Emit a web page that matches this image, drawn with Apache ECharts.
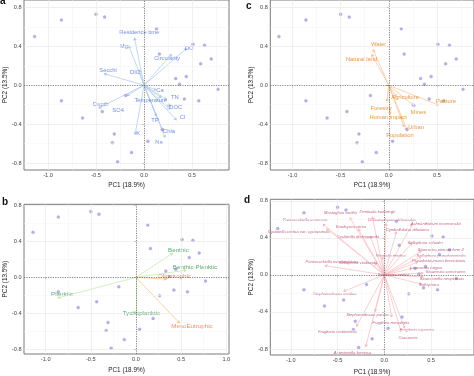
<!DOCTYPE html>
<html><head><meta charset="utf-8">
<script src="https://cdn.jsdelivr.net/npm/echarts@6/dist/echarts.min.js"></script>
<style>html,body{margin:0;padding:0;background:#fff;overflow:hidden}#c{width:474px;height:376px}</style>
</head><body><div id="c"></div>
<script>
// ---------- DATA ----------
const sitePoints = [
  [-1.14, 0.50], [-0.86, 0.67], [-0.50, 0.73], [-0.41, 0.70], [0.13, 0.58], [0.16, 0.32],
  [0.51, 0.42], [0.63, 0.41], [0.59, 0.22], [0.70, 0.27], [0.33, 0.07], [0.44, 0.09],
  [0.37, 0.01], [0.77, -0.04], [-0.86, -0.16], [-0.64, -0.335], [-0.435, -0.27], [-0.19, -0.105],
  [0.42, -0.14], [0.57, -0.16], [0.26, -0.205], [-0.31, -0.50], [-0.33, -0.59], [-0.275, -0.785],
  [-0.13, -0.69], [0.04, -0.575], [0.19, -0.455]
];
const xTicks = [-1.0, -0.5, 0.0, 0.5];
const xTicksB = [-1.0, -0.5, 0.0, 0.5, 1.0];
const yTicks = [-0.8, -0.4, 0.0, 0.4, 0.8];
const xMinor = [-1.25, -0.75, -0.25, 0.25, 0.75];
const yMinor = [-0.6, -0.2, 0.2, 0.6];
const xTitle = 'PC1 (18.9%)';
const yTitle = 'PC2 (13.5%)';

// panel a: environmental variables
const envNames = ['Residence time','Mg','DO','Circularity','Secchi','DIC','Ca','TN','Temperature','DOC','Cl','TP','Chla','Na','K','SO4','Depth'];
const envEnds = [[-0.10,0.49],[-0.16,0.41],[0.445,0.38],[0.29,0.32],[-0.42,0.12],[-0.05,0.16],[0.13,-0.05],[0.24,-0.15],[0.18,-0.13],[0.27,-0.25],[0.34,-0.36],[0.13,-0.32],[0.20,-0.475],[0.22,-0.54],[-0.094,-0.51],[-0.18,-0.11],[-0.475,-0.236]];
const envLabelPos = [[-0.05,0.54],[-0.21,0.40],[0.47,0.38],[0.24,0.28],[-0.375,0.157],[-0.094,0.136],[0.167,-0.048],[0.32,-0.12],[0.07,-0.16],[0.33,-0.23],[0.40,-0.335],[0.115,-0.356],[0.26,-0.47],[0.156,-0.59],[-0.06,-0.49],[-0.27,-0.26],[-0.45,-0.20]];

// panel b: life forms (group 0) and trophic preference (group 1)
const lifeNames = ['Benthic','Benthic-Planktic','Oligotrophic','Planktic','Tychoplanktic','MesoEutrophic'];
const lifeGroup = [0, 0, 1, 0, 0, 1];
const lifeEnds = [[0.41,0.27],[0.56,0.08],[0.34,-0.02],[-0.87,-0.23],[0.0,-0.40],[0.485,-0.51]];
const lifeLabelPos = [[0.47,0.30],[0.654,0.111],[0.426,0.007],[-0.82,-0.19],[0.06,-0.40],[0.62,-0.54]];

// panel c: land use
const landNames = ['Water','Natural land','Agriculture','Pasture','Mines','Forestry','Human impact','Urban','Population'];
const landEnds = [[-0.164,0.37],[-0.18,0.32],[0.08,-0.12],[0.52,-0.205],[0.26,-0.21],[-0.02,-0.17],[0.014,-0.30],[0.19,-0.46],[0.16,-0.43]];
const landLabelPos = [[-0.106,0.417],[-0.283,0.267],[0.17,-0.123],[0.594,-0.164],[0.307,-0.274],[-0.08,-0.236],[-0.007,-0.33],[0.283,-0.43],[0.116,-0.513]];

// panel d: diatom species
const taxaNames = ['Mastogloia smithii','Denticula kuetzingii','Pantocsekiella comensis','Delicatophycus delicatulus','Achnanthidium rosenstockii','Brachysira vitrea','Cymbellafalsa diluviana','Cyclotella cretica var. cyclopuncta','Cyclotella distinguenda','Sellaphora schadei','Staurosira pinnata form 2','Navicula modica','Sellaphora pseudoventralis','Pseudostaurosira brevistriata','Sellaphora vitabunda','Pantocsekiella wuethrichiana','Lemnicola exigua','Staurosira construens','Staurosira venter','Staurosirella neopinnata','Sellaphora','Stephanodiscus medius','Stephanodiscus parvus','Fragilaria mesolepta','Fragilaria crotonensis','Fragilaria capucina','Cocconeis','Asterionella formosa'];
const taxaEnds = [[-0.37,0.62],[-0.13,0.63],[-0.66,0.55],[0.02,0.56],[0.30,0.55],[-0.28,0.50],[0.13,0.47],[-0.62,0.50],[-0.15,0.42],[0.30,0.35],[0.40,0.26],[-0.02,0.20],[0.40,0.20],[0.36,0.14],[-0.10,0.13],[-0.64,0.10],[0.30,0.07],[0.42,0.02],[0.05,0.0],[0.42,-0.02],[0.40,-0.10],[-0.44,-0.18],[-0.10,-0.40],[0.08,-0.46],[-0.30,-0.56],[0.22,-0.58],[0.18,-0.62],[-0.20,-0.78]];
const taxaLabelPos = [[-0.47,0.667],[-0.077,0.677],[-0.846,0.596],[0.08,0.596],[0.55,0.55],[-0.357,0.52],[0.245,0.484],[-0.916,0.46],[-0.28,0.414],[0.437,0.35],[0.605,0.274],[0.07,0.20],[0.61,0.21],[0.58,0.15],[-0.28,0.133],[-0.56,0.144],[0.448,0.077],[0.657,0.028],[0.098,0.0],[0.615,-0.04],[0.48,-0.11],[-0.53,-0.21],[-0.18,-0.435],[0.07,-0.52],[-0.50,-0.61],[0.35,-0.596],[0.255,-0.68],[-0.34,-0.84]];

// ---------- LAYOUT / STYLE ----------
const FONT = 'Liberation Sans, Arial, Helvetica, sans-serif';
const panels = [
  {letter:'a', grid:{left:24, top:0, width:205, height:170}, x:[-1.25,0.885], y:[-0.87,0.875], xt:xTicks,
   names:envNames, ends:envEnds, pos:envLabelPos, groups:null, lineColors:['#a9c6e8'], textColors:['#4a6fdc'], fs:5.8, italic:false, xGap:12, letterPos:{left:0,top:-4}},
  {letter:'b', grid:{left:24, top:204.3, width:205, height:149.7}, x:[-1.24,1.03], y:[-0.85,0.81], xt:xTicksB,
   names:lifeNames, ends:lifeEnds, pos:lifeLabelPos, groups:lifeGroup, lineColors:['#bfe6a6','#f6bd78'], textColors:['#2e9150','#e8704f'], fs:6.2, italic:false, xGap:13, letterPos:{left:2,top:197}},
  {letter:'c', grid:{left:270.3, top:0, width:205, height:170}, x:[-1.23,0.885], y:[-0.87,0.875], xt:xTicks,
   names:landNames, ends:landEnds, pos:landLabelPos, groups:null, lineColors:['#f4bf8e'], textColors:['#e07a16'], fs:5.8, italic:false, xGap:12, letterPos:{left:246,top:1}},
  {letter:'d', grid:{left:270.3, top:199.3, width:210, height:158}, x:[-1.22,0.96], y:[-0.865,0.816], xt:xTicks,
   names:taxaNames, ends:taxaEnds, pos:taxaLabelPos, groups:null, lineColors:['#f6b9bf'], textColors:['#b23a5e'], fs:4.1, italic:true, xGap:14, letterPos:{left:244,top:195}}
];

const grids = [], xAxes = [], yAxes = [], series = [], titles = [];
panels.forEach((p, i) => {
  grids.push(Object.assign({show:true, borderColor:'#7a7a7a', borderWidth:1, backgroundColor:'#fff', containLabel:false}, p.grid));
  xAxes.push({type:'value', gridIndex:i, min:p.x[0], max:p.x[1], name:xTitle, nameLocation:'middle', nameGap:p.xGap,
    nameTextStyle:{fontSize:6.4, color:'#222', fontFamily:FONT},
    axisLine:{show:false}, splitLine:{show:false},
    axisTick:{show:true, length:2, customValues:p.xt, lineStyle:{color:'#555', width:0.6}},
    axisLabel:{customValues:p.xt, fontSize:5.6, color:'#444', margin:2.5, fontFamily:FONT, formatter:v=>v.toFixed(1)}});
  yAxes.push({type:'value', gridIndex:i, min:p.y[0], max:p.y[1], name:yTitle, nameLocation:'middle', nameGap:16,
    nameTextStyle:{fontSize:6.4, color:'#222', fontFamily:FONT},
    axisLine:{show:false}, splitLine:{show:false},
    axisTick:{show:true, length:2, customValues:yTicks, lineStyle:{color:'#555', width:0.6}},
    axisLabel:{customValues:yTicks, fontSize:5.6, color:'#444', margin:2.5, fontFamily:FONT, formatter:v=>v.toFixed(1)}});
  const ml = [];
  xMinor.forEach(v => { if (v > p.x[0] && v < p.x[1]) ml.push({xAxis:v, lineStyle:{color:'#f3f3f3', width:0.5, type:'solid'}}); });
  yMinor.forEach(v => ml.push({yAxis:v, lineStyle:{color:'#f3f3f3', width:0.5, type:'solid'}}));
  p.xt.forEach(v => { if (v !== 0) ml.push({xAxis:v, lineStyle:{color:'#e6e6e6', width:0.6, type:'solid'}}); });
  yTicks.forEach(v => { if (v !== 0) ml.push({yAxis:v, lineStyle:{color:'#e6e6e6', width:0.6, type:'solid'}}); });
  ml.push({xAxis:0, lineStyle:{color:'#666', width:0.8, type:[1.2,1.2]}});
  ml.push({yAxis:0, lineStyle:{color:'#666', width:0.8, type:[1.2,1.2]}});
  series.push({type:'line', xAxisIndex:i, yAxisIndex:i, data:[], z:1, silent:true,
    markLine:{silent:true, symbol:'none', animation:false, label:{show:false}, data:ml}});
  series.push({type:'lines', coordinateSystem:'cartesian2d', xAxisIndex:i, yAxisIndex:i, z:2, silent:true,
    symbol:['none','arrow'], symbolSize:3, animation:false,
    data:p.ends.map((e, k) => ({coords:[[0,0], e], lineStyle:{color:p.lineColors[p.groups ? p.groups[k] : 0], width:0.7, opacity:1}}))});
  series.push({type:'scatter', xAxisIndex:i, yAxisIndex:i, z:3, symbolSize:3, silent:true, animation:false,
    itemStyle:{color:'#a79ddb', borderColor:'#9286d2', borderWidth:0.3}, data:sitePoints});
  series.push({type:'scatter', xAxisIndex:i, yAxisIndex:i, z:4, symbolSize:0, silent:true, animation:false,
    label:{show:true, position:'inside', formatter:'{b}', fontSize:p.fs, fontStyle:p.italic?'italic':'normal', fontFamily:FONT},
    data:p.names.map((n, k) => ({name:n, value:p.pos[k], label:{color:p.textColors[p.groups ? p.groups[k] : 0]}}))});
  titles.push(Object.assign({text:p.letter, padding:0, textStyle:{fontSize:10, fontWeight:'bold', color:'#111', fontFamily:FONT}}, p.letterPos));
});

const chart = echarts.init(document.getElementById('c'), null, {renderer:'canvas'});
chart.setOption({animation:false, backgroundColor:'#fff', title:titles, grid:grids, xAxis:xAxes, yAxis:yAxes, series:series});
</script></body></html>
